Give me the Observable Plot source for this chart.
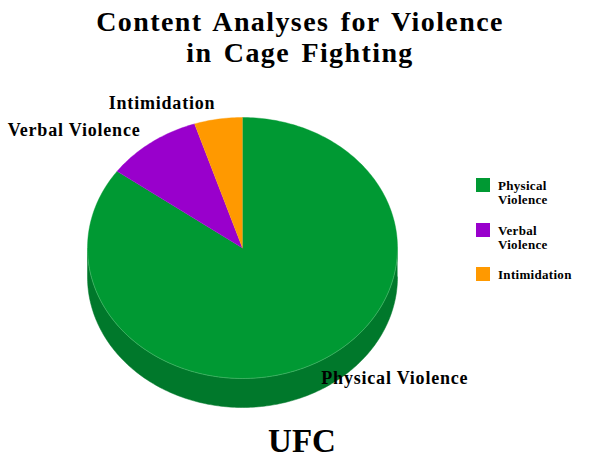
<!DOCTYPE html>
<html>
<head>
<meta charset="utf-8">
<script src="https://cdn.jsdelivr.net/npm/d3@7"></script>
<script src="https://cdn.jsdelivr.net/npm/@observablehq/plot@0.6"></script>
<style>
  html, body { margin: 0; padding: 0; background: #fff; }
  #wrap { position: relative; width: 600px; height: 463px; overflow: hidden; font-family: "Liberation Serif", serif; font-weight: bold; color: #000; }
  .tl { position: absolute; left: 0; width: 600px; text-align: center; font-size: 28px; line-height: 31px; letter-spacing: 1.4px; word-spacing: 3px; }
  #chart { position: absolute; left: 0; top: 78px; }
  #caption { position: absolute; left: 0; top: 425px; width: 600px; text-align: center; font-size: 33px; line-height: 33px; padding-left: 2px; }
  .lg { position: absolute; left: 476px; }
  .lg .sw { position: absolute; left: 0; top: 0; width: 14px; height: 14px; }
  .lg .tx { position: absolute; left: 22px; top: 1px; font-family: "Liberation Serif", serif; font-size: 13px; line-height: 13.5px; letter-spacing: 0.3px; white-space: nowrap; }
</style>
</head>
<body>
<div id="wrap">
  <div id="title"></div>
  <div id="chart"></div>
  <div id="legend"></div>
  <div id="caption"></div>
</div>
<script>
// ---- data ----
const titleLines = ["Content Analyses for Violence", "in Cage Fighting"];
const categories = ["Physical Violence", "Verbal Violence", "Intimidation"];
const legendLabels = [["Physical", "Violence"], ["Verbal", "Violence"], ["Intimidation"]];
const values = [85, 10, 5];
const colors = ["#009933", "#9900cc", "#ff9900"];
const sideColor = "#00782b";
const caption = "UFC";

// ---- title ----
const titleTops = [6, 37];
const titleEl = document.getElementById("title");
titleLines.forEach((t, i) => {
  const d = document.createElement("div");
  d.className = "tl";
  d.style.top = titleTops[i] + "px";
  d.textContent = t;
  titleEl.appendChild(d);
});

// ---- geometry (pie laid out clockwise from 12 o'clock) ----
const depth = 0.222; // thickness in units of the vertical radius
const total = d3.sum(values);
const toRad = Math.PI / 180;
let acc = 0;
const slices = categories.map((c, i) => {
  const a0 = acc / total * 360;
  acc += values[i];
  const a1 = acc / total * 360;
  return { category: c, value: values[i], a0, a1, mid: (a0 + a1) / 2 };
});

const slicePts = [];
slices.forEach(s => {
  slicePts.push({ category: s.category, x: 0, y: 0 });
  const n = Math.max(2, Math.ceil(s.a1 - s.a0));
  for (let k = 0; k <= n; k++) {
    const a = (s.a0 + (s.a1 - s.a0) * k / n) * toRad;
    slicePts.push({ category: s.category, x: Math.sin(a), y: Math.cos(a) });
  }
});

// visible front side (bottom half of the ellipse)
const sidePts = [];
const rimPts = [];
for (let t = 90; t <= 270; t++) {
  const a = t * toRad;
  sidePts.push({ x: Math.sin(a), y: Math.cos(a) });
  rimPts.push({ x: Math.sin(a), y: Math.cos(a) });
}
for (let t = 270; t >= 90; t--) {
  const a = t * toRad;
  sidePts.push({ x: Math.sin(a), y: Math.cos(a) - depth });
}

const labels = slices.map(s => {
  const a = s.mid * toRad;
  return { category: s.category, x: 1.12 * Math.sin(a), y: 1.12 * Math.cos(a), right: Math.sin(a) >= 0 };
});

const labelStyle = { fontSize: 18, fontWeight: "bold", fontFamily: "Liberation Serif, serif", fill: "#000" };

const plot = Plot.plot({
  width: 600,
  height: 340,
  margin: 0,
  x: { domain: [-1, 1], range: [87, 397], axis: null },
  y: { domain: [-1, 1], range: [300, 39], axis: null },
  color: { domain: categories, range: colors },
  marks: [
    Plot.line(sidePts, { x: "x", y: "y", fill: sideColor, stroke: sideColor, strokeWidth: 0.5, curve: "linear" }),
    Plot.line(slicePts, { x: "x", y: "y", z: "category", fill: "category", stroke: "category", strokeWidth: 0.4, curve: "linear" }),
    Plot.line(rimPts, { x: "x", y: "y", stroke: "#5cc07a", strokeWidth: 0.8, strokeOpacity: 0.7 }),
    Plot.text(labels.filter(d => !d.right), { x: "x", y: "y", text: "category", textAnchor: "end", ...labelStyle }),
    Plot.text(labels.filter(d => d.right), { x: "x", y: "y", text: "category", textAnchor: "start", ...labelStyle })
  ]
});
plot.querySelectorAll("text").forEach(t => t.style.letterSpacing = "0.8px");
document.getElementById("chart").appendChild(plot);

// ---- legend ----
const legendTops = [178, 223, 267];
const lg = document.getElementById("legend");
categories.forEach((c, i) => {
  const item = document.createElement("div");
  item.className = "lg";
  item.style.top = legendTops[i] + "px";
  const sw = document.createElement("div");
  sw.className = "sw";
  sw.style.background = plot.scale("color").apply(c);
  const tx = document.createElement("div");
  tx.className = "tx";
  tx.innerHTML = legendLabels[i].join("<br>");
  item.appendChild(sw);
  item.appendChild(tx);
  lg.appendChild(item);
});
document.getElementById("caption").textContent = caption;
</script>
</body>
</html>
